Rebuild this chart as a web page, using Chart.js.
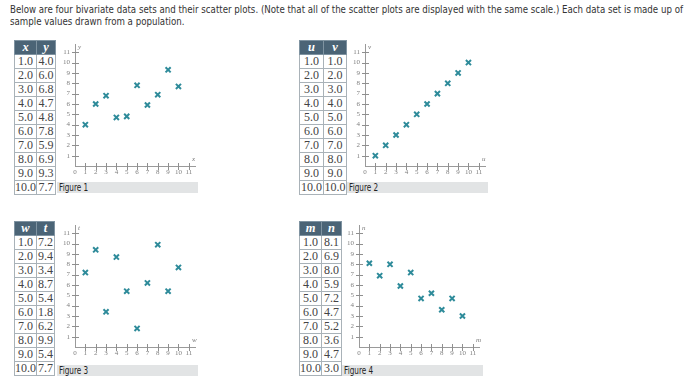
<!DOCTYPE html>
<html>
<head>
<meta charset="utf-8">
<script src="https://cdn.jsdelivr.net/npm/chart.js@4.4.1/dist/chart.umd.min.js"></script>
<style>
  html, body { margin:0; padding:0; background:#fff; }
  body { width:700px; height:384px; position:relative; overflow:hidden; }
  #intro { position:absolute; left:10px; top:4px; font-family:"DejaVu Sans", Verdana, sans-serif; font-size:10px; line-height:11.5px; color:#333; white-space:nowrap; transform-origin:0 0; }
  table.dt { position:absolute; border-collapse:collapse; font-family:"Liberation Serif", "Times New Roman", serif; font-size:12px; color:#444; }
  table.dt td, table.dt th { border:1px solid #a9b2b8; padding:0; height:13px; line-height:13px; text-align:center; }
  table.dt th { background:#4b6476; color:#fff; font-style:italic; font-weight:bold; font-size:12.5px; border-color:#7f93a1; }
  .fig { position:absolute; height:11px; background:#e2e4e5; font-family:"DejaVu Sans", Verdana, sans-serif; font-size:9.6px; line-height:11px; color:#222; padding-left:2px; box-sizing:border-box; white-space:nowrap; }
  .fig span { display:inline-block; transform:scaleX(0.76); transform-origin:0 50%; }
  .cw { position:absolute; }
</style>
</head>
<body>
<div id="intro"><div id="l1">Below are four bivariate data sets and their scatter plots. (Note that all of the scatter plots are displayed with the same scale.) Each data set is made up of</div><div>sample values drawn from a population.</div></div>
<script>
// ---- data ----
const x1 = [1.0, 2.0, 3.0, 4.0, 5.0, 6.0, 7.0, 8.0, 9.0, 10.0];
const y1 = [4.0, 6.0, 6.8, 4.7, 4.8, 7.8, 5.9, 6.9, 9.3, 7.7];
const u2 = [1.0, 2.0, 3.0, 4.0, 5.0, 6.0, 7.0, 8.0, 9.0, 10.0];
const v2 = [1.0, 2.0, 3.0, 4.0, 5.0, 6.0, 7.0, 8.0, 9.0, 10.0];
const w3 = [1.0, 2.0, 3.0, 4.0, 5.0, 6.0, 7.0, 8.0, 9.0, 10.0];
const t3 = [7.2, 9.4, 3.4, 8.7, 5.4, 1.8, 6.2, 9.9, 5.4, 7.7];
const m4 = [1.0, 2.0, 3.0, 4.0, 5.0, 6.0, 7.0, 8.0, 9.0, 10.0];
const n4 = [8.1, 6.9, 8.0, 5.9, 7.2, 4.7, 5.2, 3.6, 4.7, 3.0];
const xTickValues = [0, 1, 2, 3, 4, 5, 6, 7, 8, 9, 10, 11];
const yTickValues = [1, 2, 3, 4, 5, 6, 7, 8, 9, 10, 11];
const figureLabels = ["Figure 1", "Figure 2", "Figure 3", "Figure 4"];

// fit intro line width
(function(){
  const intro = document.getElementById('intro');
  const l1 = document.getElementById('l1');
  const span = document.createElement('span'); span.textContent = l1.textContent;
  l1.textContent = ''; l1.appendChild(span);
  const w = span.getBoundingClientRect().width;
  intro.style.transform = 'scaleX(' + (673 / w) + ')';
})();

const K = 10.37, XMAX = 11.6, YMAX = 11.8, YW = 18, XH = 12, PT = 11, PR = 6;
const MARK = '#2e8b9a';

const axisDeco = {
  id: 'axisDeco',
  afterDraw(chart, args, opts) {
    const {ctx, chartArea: a, scales: {x, y}} = chart;
    ctx.save();
    ctx.strokeStyle = '#8f8f8f'; ctx.lineWidth = 1;
    ctx.beginPath();
    for (const v of yTickValues) {
      const px = Math.round(x.getPixelForValue(v)) + 0.5;
      ctx.moveTo(px, a.bottom - 3); ctx.lineTo(px, a.bottom + 4);
      const py = Math.round(y.getPixelForValue(v)) + 0.5;
      ctx.moveTo(a.left - 3, py); ctx.lineTo(a.left + 4, py);
    }
    ctx.stroke();
    ctx.fillStyle = '#777';
    ctx.font = 'italic 7px "Liberation Serif"';
    ctx.textBaseline = 'middle'; ctx.textAlign = 'left';
    ctx.fillText(opts.yl, a.left + 3, a.top + 3);
    ctx.fillText(opts.xl, a.right - 3, a.bottom - 7);
    ctx.restore();
  }
};

function makePanel(xs, ys, xl, yl, tLeft, tTop, c1, c2, ox, oy, figLeft, figTop, figW, figText) {
  // table
  const tb = document.createElement('table');
  tb.className = 'dt';
  tb.style.left = tLeft + 'px'; tb.style.top = tTop + 'px';
  let html = '<tr><th style="width:' + c1 + 'px">' + xl + '</th><th style="width:' + c2 + 'px">' + yl + '</th></tr>';
  for (let i = 0; i < xs.length; i++) html += '<tr><td>' + xs[i].toFixed(1) + '</td><td>' + ys[i].toFixed(1) + '</td></tr>';
  tb.innerHTML = html;
  document.body.appendChild(tb);
  // figure label
  const f = document.createElement('div');
  f.className = 'fig';
  const sp = document.createElement('span'); sp.textContent = figText; f.appendChild(sp);
  f.style.left = figLeft + 'px'; f.style.top = figTop + 'px'; f.style.width = figW + 'px';
  document.body.appendChild(f);
  // chart
  const W = Math.round(YW + XMAX * K + PR), H = Math.round(PT + YMAX * K + XH);
  const wrap = document.createElement('div'); wrap.className = 'cw';
  wrap.style.left = (ox - YW) + 'px'; wrap.style.top = Math.round(oy - YMAX * K - PT) + 'px';
  const cv = document.createElement('canvas'); cv.width = W; cv.height = H;
  cv.style.width = W + 'px'; cv.style.height = H + 'px';
  wrap.appendChild(cv); document.body.appendChild(wrap);
  new Chart(cv, {
    type: 'scatter',
    data: { datasets: [{ data: xs.map((v, i) => ({x: v, y: ys[i]})), pointStyle: 'crossRot', pointRadius: 3.6, pointBorderWidth: 2, borderColor: MARK, backgroundColor: MARK, pointHoverRadius: 3.6 }] },
    options: {
      responsive: false, animation: false, devicePixelRatio: 1,
      layout: { padding: { top: PT, right: PR, left: 0, bottom: 0 } },
      plugins: { legend: { display: false }, tooltip: { enabled: false }, axisDeco: { xl: xl, yl: yl } },
      scales: {
        x: { type: 'linear', min: 0, max: XMAX,
             afterBuildTicks: s => { s.ticks = xTickValues.map(v => ({value: v})); },
             afterFit: s => { s.height = XH; },
             ticks: { font: { family: 'Liberation Serif', size: 7 }, color: '#808080', padding: 2, autoSkip: false, maxRotation: 0, callback: v => String(v) },
             grid: { display: false, drawTicks: false },
             border: { display: true, color: '#9a9a9a' } },
        y: { type: 'linear', min: 0, max: YMAX,
             afterBuildTicks: s => { s.ticks = yTickValues.map(v => ({value: v})); },
             afterFit: s => { s.width = YW; },
             ticks: { font: { family: 'Liberation Serif', size: 7 }, color: '#808080', padding: 5, autoSkip: false, callback: v => String(v) },
             grid: { display: false, drawTicks: false },
             border: { display: true, color: '#9a9a9a' } }
      }
    },
    plugins: [axisDeco]
  });
}

makePanel(x1, y1, 'x', 'y', 14, 40, 20, 18, 75, 166, 57, 182, 141, figureLabels[0]);
makePanel(u2, v2, 'u', 'v', 299, 40, 23, 22, 365, 166, 347, 182, 141, figureLabels[1]);
makePanel(w3, t3, 'w', 't', 14, 221, 20, 17, 75, 347, 57, 365, 141, figureLabels[2]);
makePanel(m4, n4, 'm', 'n', 299, 221, 20, 19, 359, 347, 342, 365, 141, figureLabels[3]);
</script>
</body>
</html>
